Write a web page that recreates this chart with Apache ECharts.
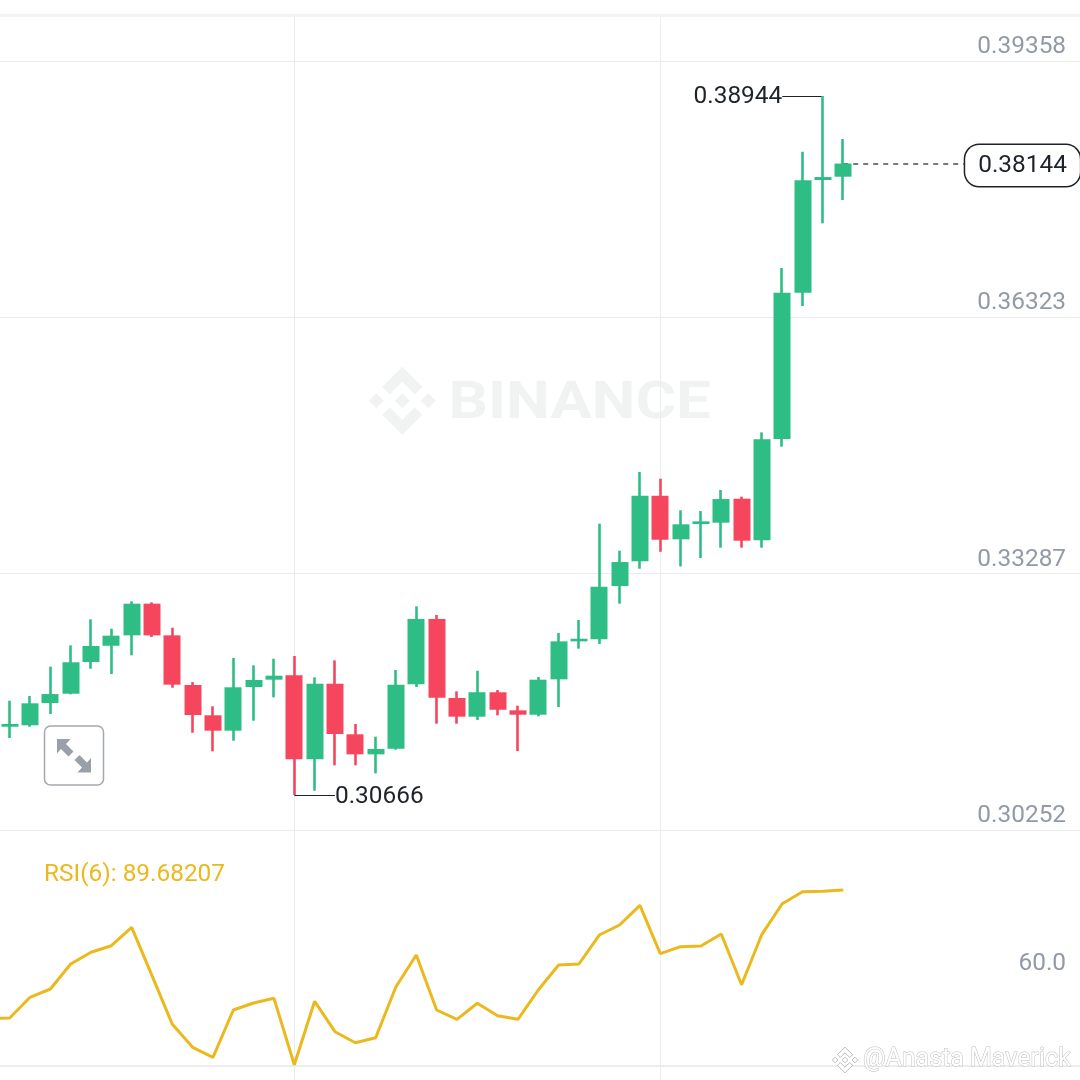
<!DOCTYPE html>
<html lang="en">
<head>
    <meta charset="UTF-8">
    <script src="https://cdn.jsdelivr.net/npm/echarts@6/dist/echarts.min.js"></script>
    <title>RSI candles</title>
    <style>
        html, body { margin: 0; padding: 0; background: #fff; }
        #main { width: 1080px; height: 1080px; }
    </style>
</head>
<body>
<div id="main"></div>

<script>
    // open, close, low, high. The first slot sits off the left edge and only has an RSI point
    var candles = [
        ['-', '-', '-', '-'],
        [0.31475, 0.31507, 0.31341, 0.31783],
        [0.31492, 0.31752, 0.31475, 0.31839],
        [0.31756, 0.31862, 0.31626, 0.32186],
        [0.31866, 0.32238, 0.31859, 0.32439],
        [0.32241, 0.32431, 0.32162, 0.32747],
        [0.32434, 0.32553, 0.32099, 0.32636],
        [0.32557, 0.32932, 0.32321, 0.32960],
        [0.32932, 0.32557, 0.32537, 0.32948],
        [0.32557, 0.31973, 0.31937, 0.32647],
        [0.31969, 0.31614, 0.31404, 0.32004],
        [0.31610, 0.31428, 0.31184, 0.31717],
        [0.31428, 0.31942, 0.31309, 0.32289],
        [0.31945, 0.32028, 0.31546, 0.32202],
        [0.32032, 0.32079, 0.31823, 0.32280],
        [0.32084, 0.31089, 0.30666, 0.32312],
        [0.31089, 0.31984, 0.30717, 0.32060],
        [0.31984, 0.31389, 0.31018, 0.32261],
        [0.31385, 0.31148, 0.31018, 0.31507],
        [0.31148, 0.31211, 0.30923, 0.31357],
        [0.31215, 0.31973, 0.31203, 0.32147],
        [0.31977, 0.32750, 0.31945, 0.32901],
        [0.32750, 0.31819, 0.31511, 0.32798],
        [0.31815, 0.31594, 0.31511, 0.31894],
        [0.31594, 0.31883, 0.31555, 0.32138],
        [0.31883, 0.31676, 0.31610, 0.31910],
        [0.31669, 0.31617, 0.31187, 0.31724],
        [0.31617, 0.32032, 0.31598, 0.32064],
        [0.32036, 0.32486, 0.31708, 0.32585],
        [0.32486, 0.32517, 0.32399, 0.32739],
        [0.32510, 0.33133, 0.32454, 0.33879],
        [0.33141, 0.33425, 0.32932, 0.33559],
        [0.33434, 0.34210, 0.33346, 0.34491],
        [0.34210, 0.33689, 0.33547, 0.34412],
        [0.33694, 0.33872, 0.33374, 0.34038],
        [0.33875, 0.33907, 0.33473, 0.34029],
        [0.33891, 0.34171, 0.33595, 0.34278],
        [0.34175, 0.33678, 0.33595, 0.34199],
        [0.33682, 0.34878, 0.33595, 0.34961],
        [0.34882, 0.36614, 0.34791, 0.36907],
        [0.36614, 0.37945, 0.36457, 0.38284],
        [0.37949, 0.37984, 0.37436, 0.38944],
        [0.37988, 0.38144, 0.37712, 0.38434]
    ];
    var rsi = [
        46.41, 46.51, 53.49, 56.29, 64.72, 68.67, 70.89, 77.10, 60.78, 44.38, 36.63,
        33.25, 49.21, 51.57, 53.15, 30.76, 52.14, 41.89, 38.18, 39.86, 57.07, 67.76,
        49.21, 46.07, 51.47, 47.28, 46.07, 55.95, 64.38, 64.72, 74.50, 77.88, 84.52,
        68.20, 70.56, 70.79, 74.84, 57.74, 74.74, 85.06, 89.11, 89.24, 89.68
    ];
    var priceTicks = [0.30252, 0.33287, 0.36323, 0.39358];
    var rsiTicks = [60];
    var rsiFloor = [30.32];
    var highPrice = 0.38944;
    var lowPrice = 0.30666;
    var lastPrice = 0.38144;
    var rsiTitle = 'RSI(6): 89.68207';

    var categories = [];
    for (var i = 0; i < 55; i++) {
        categories.push('k' + i);
    }
    var highSlot = 41, lowSlot = 15, lastSlot = 42;
    var timeLines = [15, 33];

    var FONT = 'Roboto', FONT_SIZE = 24.4;
    var GREEN = '#2EBD85', RED = '#F6465D', GRID = '#EAECEF', GREY = '#929AA5', DARK = '#1E2329';

    function timeLine(index) {
        return timeLines.indexOf(index) >= 0;
    }

    // bodies get their own series so the wick stroke does not make them taller
    var bodies = candles.map(function (c) {
        if (c[0] === '-') {
            return c;
        }
        return [c[0], c[1], Math.min(c[0], c[1]), Math.max(c[0], c[1])];
    });

    function logoParts(cx, cy, k, style) {
        var shapes = [
            [[0, -34], [20, -14], [12.5, -6.5], [0, -19], [-12.5, -6.5], [-20, -14]],
            [[0, 34], [20, 14], [12.5, 6.5], [0, 19], [-12.5, 6.5], [-20, 14]],
            [[0, -7.5], [7.5, 0], [0, 7.5], [-7.5, 0]],
            [[-26, -7.5], [-18.5, 0], [-26, 7.5], [-33.5, 0]],
            [[26, -7.5], [33.5, 0], [26, 7.5], [18.5, 0]]
        ];
        return shapes.map(function (pts) {
            return {
                type: 'polygon',
                silent: true,
                z: style.z,
                shape: { points: pts.map(function (p) { return [cx + p[0] * k, cy + p[1] * k]; }) },
                style: style
            };
        });
    }

    var graphics = logoParts(402.3, 400.7, 1, { fill: '#F1F3F3', z: 0 }).concat([
        {
            type: 'text', silent: true, z: 0, x: 448.5, y: 405, scaleX: 1.19,
            style: { text: 'BINANCE', fontFamily: FONT, fontWeight: 'bold', fontSize: 52, fill: '#F1F3F3', textAlign: 'left', textVerticalAlign: 'middle' }
        },
        // expand button
        {
            type: 'rect', silent: true, z: 10,
            shape: { x: 44.5, y: 726, width: 59, height: 59, r: 6 },
            style: { fill: '#fff', stroke: '#A4A9B1', lineWidth: 1.5 }
        },
        {
            type: 'polygon', silent: true, z: 11,
            shape: { points: [[57, 739], [70.5, 739], [66, 744], [73.5, 751.5], [68.5, 756.5], [61, 749], [57, 753.5]] },
            style: { fill: '#9AA0A8' }
        },
        {
            type: 'polygon', silent: true, z: 11,
            shape: { points: [[91, 772.5], [77.5, 772.5], [82, 767.5], [74.5, 760], [79.5, 755], [87, 762.5], [91, 758]] },
            style: { fill: '#9AA0A8' }
        }
    ]).concat(logoParts(845, 1060, 0.38, { fill: '#fff', stroke: '#BDBDBD', lineWidth: 1, z: 20 })).concat([
        {
            type: 'text', silent: true, z: 20, x: 863, y: 1060,
            style: { text: '@Anasta Maverick', fontFamily: FONT, fontSize: 25, fill: '#fff', stroke: '#BDBDBD', lineWidth: 1, textAlign: 'left', textVerticalAlign: 'middle' }
        }
    ]);

    var myChart = echarts.init(document.getElementById('main'));

    var option = {
        animation: false,
        backgroundColor: '#fff',
        title: {
            text: rsiTitle,
            left: 44,
            top: 863,
            padding: 0,
            textStyle: { fontFamily: FONT, fontSize: FONT_SIZE, fontWeight: 'normal', color: '#EBB91E' }
        },
        graphic: graphics,
        grid: [
            { left: -20.8, top: 15, width: 1118.15, height: 815, outerBoundsMode: 'none' },
            { left: -20.8, top: 830, width: 1118.15, height: 250, outerBoundsMode: 'none' }
        ],
        xAxis: [
            {
                type: 'category', gridIndex: 0, data: categories, position: 'top',
                axisLine: { show: true, lineStyle: { color: '#F2F3F5', width: 3 } },
                axisTick: { show: false }, axisLabel: { show: false },
                splitLine: { show: true, alignWithLabel: true, interval: timeLine, lineStyle: { color: GRID, width: 1 } }
            },
            {
                type: 'category', gridIndex: 1, data: categories,
                axisLine: { show: false }, axisTick: { show: false }, axisLabel: { show: false },
                splitLine: { show: true, alignWithLabel: true, interval: timeLine, lineStyle: { color: GRID, width: 1 } }
            }
        ],
        yAxis: [
            {
                type: 'value', gridIndex: 0, position: 'right', min: 0.30252, max: 0.39903, scale: true,
                axisLine: { show: false },
                axisTick: { show: false, customValues: priceTicks },
                axisLabel: {
                    inside: true, margin: 31.3, customValues: priceTicks,
                    fontFamily: FONT, fontSize: FONT_SIZE, color: GREY, align: 'right', verticalAlign: 'bottom', lineHeight: 28,
                    formatter: function (v) { return v.toFixed(5); }
                },
                splitLine: { show: true, lineStyle: { color: GRID, width: 1 } }
            },
            {
                type: 'value', gridIndex: 1, position: 'right', min: 25.6, max: 109.92,
                axisLine: { show: false },
                axisTick: { show: false, customValues: rsiFloor },
                axisLabel: {
                    inside: true, margin: 31.3, customValues: rsiTicks,
                    fontFamily: FONT, fontSize: FONT_SIZE, color: GREY, align: 'right', verticalAlign: 'bottom', lineHeight: 28,
                    formatter: function (v) { return v.toFixed(1); }
                },
                splitLine: { show: true, lineStyle: { color: '#EAECEF', width: 2 } }
            }
        ],
        series: [
            {
                // wicks
                type: 'candlestick',
                xAxisIndex: 0,
                yAxisIndex: 0,
                barWidth: 0.5,
                data: candles,
                itemStyle: { color: GREEN, color0: RED, borderColor: GREEN, borderColor0: RED, borderWidth: 2.6 },
                markLine: {
                    silent: true,
                    symbol: 'none',
                    z: 1,
                    data: [
                        [
                            {
                                coord: [lastSlot, lastPrice],
                                lineStyle: { color: '#474D57', type: [5, 5], width: 1.5 },
                                label: {
                                    show: true, position: 'end', distance: 0, formatter: lastPrice.toFixed(5),
                                    fontFamily: FONT, fontSize: FONT_SIZE, color: DARK, backgroundColor: '#fff',
                                    borderColor: DARK, borderWidth: 1.5, borderRadius: 14, padding: [9, 13, 8, 13], offset: [0, 2]
                                }
                            },
                            { coord: [48, lastPrice] }
                        ],
                        [
                            {
                                coord: [highSlot, highPrice],
                                lineStyle: { color: DARK, type: 'solid', width: 1.2 },
                                label: {
                                    show: true, position: 'end', distance: 0, formatter: highPrice.toFixed(5),
                                    fontFamily: FONT, fontSize: FONT_SIZE, color: DARK, offset: [0, 1]
                                }
                            },
                            { coord: [39, highPrice] }
                        ],
                        [
                            {
                                coord: [lowSlot, lowPrice],
                                lineStyle: { color: DARK, type: 'solid', width: 1.2 },
                                label: {
                                    show: true, position: 'end', distance: 0, formatter: lowPrice.toFixed(5),
                                    fontFamily: FONT, fontSize: FONT_SIZE, color: DARK, offset: [0, 2]
                                }
                            },
                            { coord: [17, lowPrice] }
                        ]
                    ]
                }
            },
            {
                // bodies
                type: 'candlestick',
                xAxisIndex: 0,
                yAxisIndex: 0,
                barWidth: 17.5,
                data: bodies,
                itemStyle: { color: GREEN, color0: RED, borderColor: GREEN, borderColor0: RED, borderWidth: 0 }
            },
            {
                type: 'line',
                xAxisIndex: 1,
                yAxisIndex: 1,
                data: rsi,
                symbol: 'none',
                lineStyle: { color: '#EBB91E', width: 3 }
            }
        ]
    };

    myChart.setOption(option);
</script>
</body>
</html>
